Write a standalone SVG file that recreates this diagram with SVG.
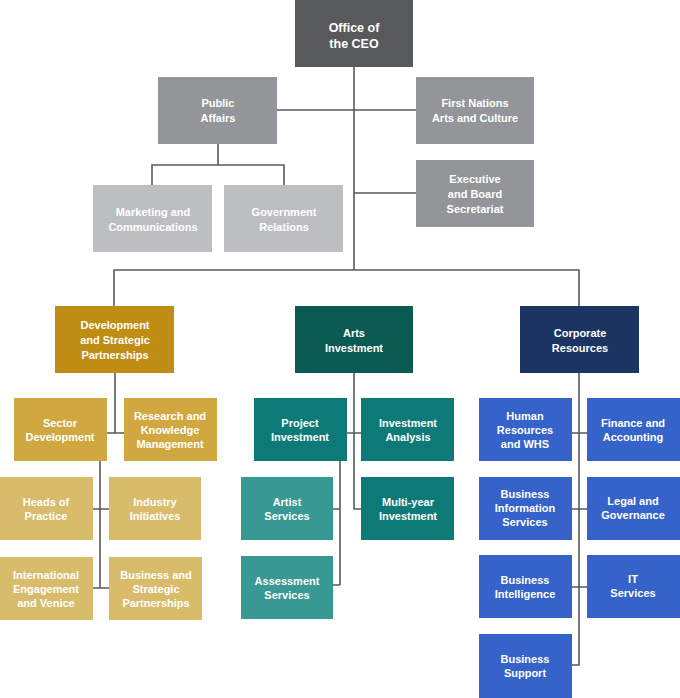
<svg xmlns="http://www.w3.org/2000/svg" width="680" height="698" viewBox="0 0 680 698">
<style>
text{font-family:"Liberation Sans",Arial,sans-serif;font-weight:bold;font-size:11px;fill:#fff;text-anchor:middle}
.big{font-size:12.5px}
.c path{stroke:#58595b;stroke-width:1.6;fill:none}
.g1{fill:#58595b}.g2{fill:#939598}.g3{fill:#bcbec0}
.d1{fill:#bf8c14}.d2{fill:#d0a83f}.d3{fill:#d8bb6b}
.a1{fill:#0c5b52}.a2{fill:#0e7a77}.a3{fill:#389893}
.b1{fill:#1b3461}.b2{fill:#3563c9}
</style>
<rect width="680" height="698" fill="#fff"/>
<g class="c">
<path d="M354 67V270M277 110H416M354 193H416M218 144V165M152 185V165H284V185M114 306V270H579V306"/>
<path d="M115 373V433M107 433H124M100 461V588M93 509H109M93 588H109"/>
<path d="M354 373V509H361M347 433H361M340 461V585M333 509H340M333 585H340"/>
<path d="M579 373V665H572M572 433H587M572 509H587M572 587H587"/>
</g>
<g id="ceo"><rect class="g1" x="295" y="0" width="118" height="67"/><text class="big" x="354" y="32">Office of</text><text class="big" x="354" y="48">the CEO</text></g>
<g id="pa"><rect class="g2" x="158" y="77" width="119" height="67"/><text x="218" y="107">Public</text><text x="218" y="122">Affairs</text></g>
<g id="fn"><rect class="g2" x="416" y="77" width="118" height="67"/><text x="475" y="107">First Nations</text><text x="475" y="122">Arts and Culture</text></g>
<g id="ex"><rect class="g2" x="416" y="160" width="118" height="67"/><text x="475" y="183">Executive</text><text x="475" y="198">and Board</text><text x="475" y="213">Secretariat</text></g>
<g id="mc"><rect class="g3" x="93" y="185" width="119" height="67"/><text x="153" y="216">Marketing and</text><text x="153" y="231">Communications</text></g>
<g id="gr"><rect class="g3" x="224" y="185" width="119" height="67"/><text x="284" y="216">Government</text><text x="284" y="231">Relations</text></g>
<g id="dsp"><rect class="d1" x="55" y="306" width="119" height="67"/><text x="115" y="329">Development</text><text x="115" y="344">and Strategic</text><text x="115" y="359">Partnerships</text></g>
<g id="ai"><rect class="a1" x="295" y="306" width="118" height="67"/><text x="354" y="337">Arts</text><text x="354" y="352">Investment</text></g>
<g id="cr"><rect class="b1" x="520" y="306" width="119" height="67"/><text x="580" y="337">Corporate</text><text x="580" y="352">Resources</text></g>
<g id="sd"><rect class="d2" x="14" y="398" width="93" height="63"/><text x="60" y="427">Sector</text><text x="60" y="441">Development</text></g>
<g id="rk"><rect class="d2" x="124" y="398" width="93" height="63"/><text x="170" y="420">Research and</text><text x="170" y="434">Knowledge</text><text x="170" y="448">Management</text></g>
<g id="hp"><rect class="d3" x="0" y="477" width="93" height="63"/><text x="46" y="506">Heads of</text><text x="46" y="520">Practice</text></g>
<g id="ii"><rect class="d3" x="109" y="477" width="92" height="63"/><text x="155" y="506">Industry</text><text x="155" y="520">Initiatives</text></g>
<g id="ie"><rect class="d3" x="0" y="557" width="93" height="63"/><text x="46" y="579">International</text><text x="46" y="593">Engagement</text><text x="46" y="607">and Venice</text></g>
<g id="bs"><rect class="d3" x="109" y="557" width="93" height="63"/><text x="156" y="579">Business and</text><text x="156" y="593">Strategic</text><text x="156" y="607">Partnerships</text></g>
<g id="pi"><rect class="a2" x="254" y="398" width="93" height="63"/><text x="300" y="427">Project</text><text x="300" y="441">Investment</text></g>
<g id="ia"><rect class="a2" x="361" y="398" width="93" height="63"/><text x="408" y="427">Investment</text><text x="408" y="441">Analysis</text></g>
<g id="my"><rect class="a2" x="361" y="477" width="93" height="63"/><text x="408" y="506">Multi-year</text><text x="408" y="520">Investment</text></g>
<g id="as"><rect class="a3" x="241" y="477" width="92" height="63"/><text x="287" y="506">Artist</text><text x="287" y="520">Services</text></g>
<g id="asm"><rect class="a3" x="241" y="556" width="92" height="63"/><text x="287" y="585">Assessment</text><text x="287" y="599">Services</text></g>
<g id="hr"><rect class="b2" x="479" y="398" width="93" height="63"/><text x="525" y="420">Human</text><text x="525" y="434">Resources</text><text x="525" y="448">and WHS</text></g>
<g id="fa"><rect class="b2" x="587" y="398" width="93" height="63"/><text x="633" y="427">Finance and</text><text x="633" y="441">Accounting</text></g>
<g id="bis"><rect class="b2" x="479" y="477" width="93" height="63"/><text x="525" y="498">Business</text><text x="525" y="512">Information</text><text x="525" y="526">Services</text></g>
<g id="lg"><rect class="b2" x="587" y="477" width="93" height="63"/><text x="633" y="505">Legal and</text><text x="633" y="519">Governance</text></g>
<g id="bi"><rect class="b2" x="479" y="555" width="93" height="63"/><text x="525" y="584">Business</text><text x="525" y="598">Intelligence</text></g>
<g id="it"><rect class="b2" x="587" y="555" width="93" height="63"/><text x="633" y="583">IT</text><text x="633" y="597">Services</text></g>
<g id="bsu"><rect class="b2" x="479" y="634" width="93" height="64"/><text x="525" y="663">Business</text><text x="525" y="677">Support</text></g>
</svg>
